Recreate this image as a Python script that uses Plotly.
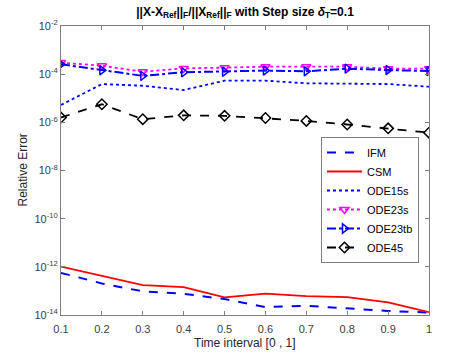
import plotly.graph_objects as go

t = [0.1, 0.2, 0.3, 0.4, 0.5, 0.6, 0.7, 0.8, 0.9, 1.0]
ifm_log = [-12.25, -12.69, -13.02, -13.12, -13.34, -13.67, -13.62, -13.74, -13.83, -13.90]
csm_log = [-11.99, -12.37, -12.76, -12.84, -13.27, -13.11, -13.22, -13.26, -13.48, -13.88]
ode15s_log = [-5.28, -4.41, -4.48, -4.66, -4.27, -4.27, -4.38, -4.38, -4.41, -4.52]
ode23s_log = [-3.52, -3.65, -3.90, -3.76, -3.73, -3.69, -3.69, -3.69, -3.77, -3.77]
ode23tb_log = [-3.59, -3.84, -4.07, -3.92, -3.90, -3.85, -3.88, -3.77, -3.83, -3.87]
ode45_log = [-5.80, -5.25, -5.87, -5.71, -5.73, -5.82, -5.94, -6.09, -6.25, -6.43]

ytick_exp = [-2, -4, -6, -8, -10, -12, -14]
xtick_vals = [0.1, 0.2, 0.3, 0.4, 0.5, 0.6, 0.7, 0.8, 0.9, 1.0]
xtick_text = ["0.1", "0.2", "0.3", "0.4", "0.5", "0.6", "0.7", "0.8", "0.9", "1"]


def p(v):
    return [10 ** e for e in v]


fig = go.Figure()
fig.add_trace(go.Scatter(x=t, y=p(ifm_log), name="IFM", mode="lines",
                         line=dict(color="#0000ff", width=2, dash="dash")))
fig.add_trace(go.Scatter(x=t, y=p(csm_log), name="CSM", mode="lines",
                         line=dict(color="#ff0000", width=1.8)))
fig.add_trace(go.Scatter(x=t, y=p(ode15s_log), name="ODE15s", mode="lines",
                         line=dict(color="#0000ff", width=1.8, dash="dot")))
fig.add_trace(go.Scatter(x=t, y=p(ode23s_log), name="ODE23s", mode="lines+markers",
                         line=dict(color="#ff00ff", width=1.8, dash="dot"),
                         marker=dict(symbol="triangle-down-open", size=8,
                                     line=dict(color="#ff00ff", width=1.5))))
fig.add_trace(go.Scatter(x=t, y=p(ode23tb_log), name="ODE23tb", mode="lines+markers",
                         line=dict(color="#0000ff", width=2, dash="dashdot"),
                         marker=dict(symbol="triangle-right-open", size=8,
                                     line=dict(color="#0000ff", width=1.5))))
fig.add_trace(go.Scatter(x=t, y=p(ode45_log), name="ODE45", mode="lines+markers",
                         line=dict(color="#000000", width=1.8, dash="dash"),
                         marker=dict(symbol="diamond-open", size=8,
                                     line=dict(color="#000000", width=1.5))))

axis_common = dict(showline=True, linecolor="#808080", linewidth=1, mirror="ticks",
                   ticks="inside", ticklen=4, tickcolor="#808080",
                   showgrid=False, zeroline=False, automargin=False,
                   tickfont=dict(family="Liberation Sans, Arial", size=11, color="#404040"))

fig.update_layout(
    width=474, height=355,
    margin=dict(l=61, r=45, t=26, b=40),
    paper_bgcolor="white", plot_bgcolor="white",
    font=dict(family="Liberation Sans, Arial", color="#262626"),
    title=dict(text="<b>||X-X<sub>Ref</sub>||<sub>F</sub>/||X<sub>Ref</sub>||<sub>F</sub> with Step size <i>δ</i><sub>T</sub>=0.1</b>",
               x=245 / 474, xanchor="center", y=0.967, yanchor="middle",
               font=dict(size=12, color="#000000")),
    xaxis=dict(range=[0.1, 1.0], tickvals=xtick_vals, ticktext=xtick_text,
               ticklabelstandoff=4, **axis_common),
    yaxis=dict(type="log", range=[-14, -2], tickvals=[10 ** e for e in ytick_exp],
               ticktext=["10<sup>%d</sup>" % e for e in ytick_exp],
               **axis_common),
    legend=dict(x=(321 - 61) / 368, y=(315 - 137) / 289, xanchor="left", yanchor="top",
                bgcolor="white", bordercolor="#808080", borderwidth=1,
                font=dict(size=11, color="#000000"), itemwidth=35, tracegroupgap=0),
    showlegend=True,
    annotations=[
        dict(text="Time interval [0 , 1]", xref="paper", yref="paper",
             x=0.5, y=-28 / 289, xanchor="center", yanchor="middle", showarrow=False,
             font=dict(size=12, color="#262626")),
        dict(text="Relative Error", xref="paper", yref="paper",
             x=-39 / 368, y=0.5, xanchor="center", yanchor="middle", showarrow=False,
             textangle=-90, font=dict(size=12, color="#262626")),
    ],
)

fig.write_html("out.html", config={"displayModeBar": False},
               post_script="document.body.style.margin='0';")
